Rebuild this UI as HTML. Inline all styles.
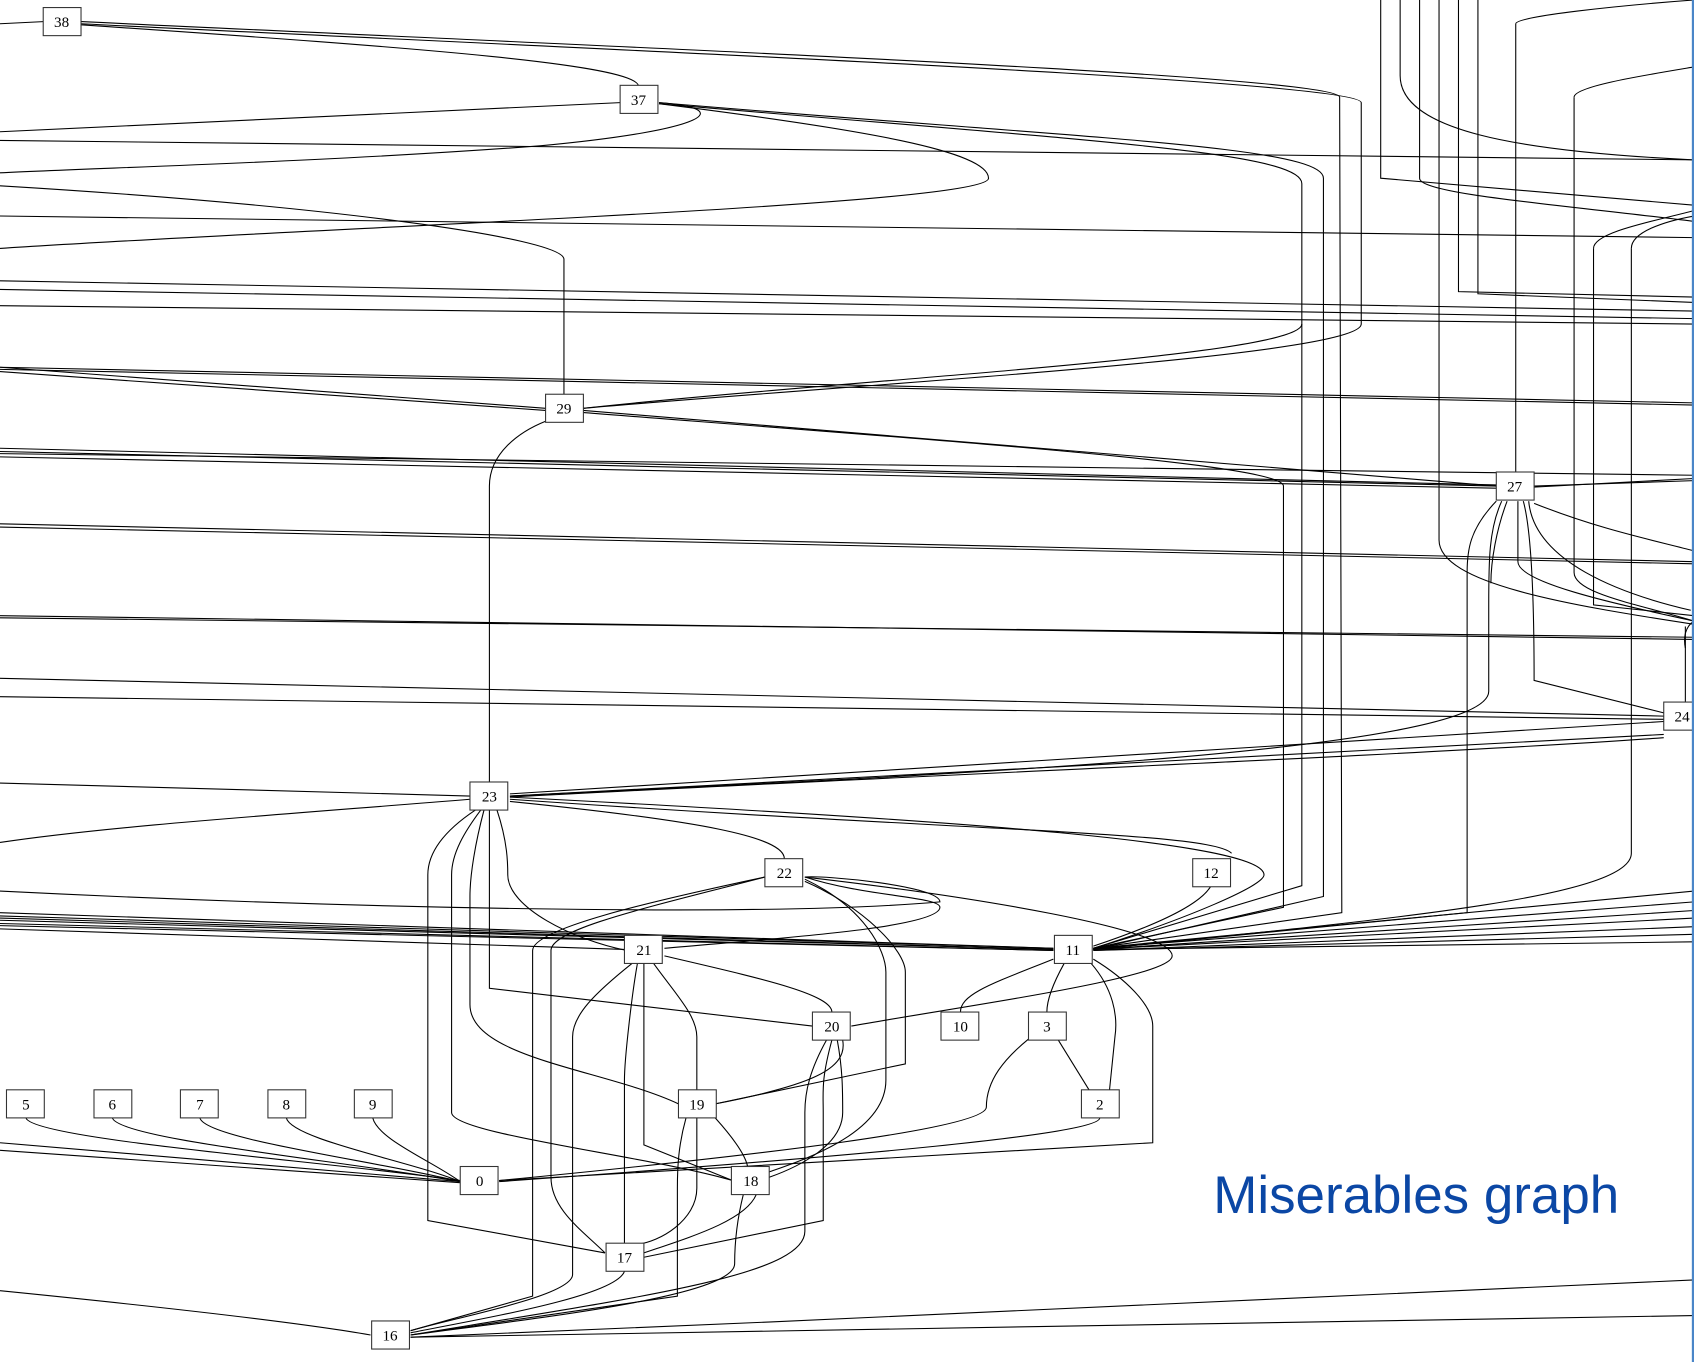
<!DOCTYPE html>
<html><head><meta charset="utf-8"><style>
html,body{margin:0;padding:0;background:#fff;overflow:hidden}
svg{display:block}
text{font-family:"Liberation Serif",serif;font-size:14px}
</style></head><body>
<svg width="1694" height="1362" viewBox="0 0 1568 1261" preserveAspectRatio="none" xmlns="http://www.w3.org/2000/svg">
<g fill="none" stroke="#000" stroke-width="1">
<!-- top area -->
<path d="M0,22 L40,20"/>
<path d="M75,20 C600,45 1240,70 1240,90 L1242,845 L1012,878"/>
<path d="M75,22 C600,48 1260,75 1260,95 L1260,300 C1260,330 800,355 540,378"/>
<path d="M75,23 C400,45 591,60 591,80"/>
<path d="M574,95 L0,122"/>
<path d="M610,95 C680,100 660,120 500,135 C300,150 100,155 0,160"/>
<path d="M610,96 C800,120 915,140 915,165 C915,190 300,210 0,230"/>
<path d="M610,96 C1000,130 1205,140 1205,170 L1205,820 L1012,878"/>
<path d="M610,95 C1000,128 1225,135 1225,165 L1225,830 L1012,879"/>
<path d="M0,130 L1568,148"/>
<path d="M0,172 C300,190 522,220 522,240 L522,366"/>
<path d="M0,200 L1568,220"/>
<path d="M0,260 L1568,288"/>
<path d="M0,268 L1568,295"/>
<path d="M0,283 L1568,300"/>
<path d="M0,340 L505,378"/>
<path d="M0,344 L505,380"/>
<path d="M0,340 L1568,373"/>
<path d="M0,342 L1568,375"/>
<path d="M540,378 C800,350 1205,330 1205,300"/>
<path d="M540,382 C900,410 1188,430 1188,450 L1188,840 L1012,878"/>
<path d="M540,380 L1385,450"/>
<path d="M505,390 C480,400 453,420 453,450 L453,724"/>
<path d="M0,415 L1385,449"/>
<path d="M0,418 L1385,450"/>
<path d="M0,423 L1385,452"/>
<path d="M0,420 L1568,440"/>
<path d="M1420,450 L1568,445"/>
<path d="M1420,451 L1568,443"/>
<path d="M1420,466 C1480,490 1530,500 1568,510"/>
<path d="M0,485 L1568,520"/>
<path d="M0,488 L1568,522"/>
<path d="M0,570 L1568,592"/>
<path d="M0,572 L1568,590"/>
<path d="M0,628 L1540,663"/>
<path d="M0,645 L1540,666"/>
<!-- right vertical stubs -->
<path d="M1278,0 L1278,165 L1568,190"/>
<path d="M1296,0 L1296,70 C1296,120 1400,140 1568,148"/>
<path d="M1314,0 L1314,165 C1314,180 1450,190 1568,205"/>
<path d="M1332,0 L1332,500 C1332,540 1450,560 1568,578"/>
<path d="M1350,0 L1350,270 L1568,275"/>
<path d="M1368,0 L1368,272 L1568,280"/>
<path d="M1403,22 C1403,15 1500,5 1568,0"/>
<path d="M1403,22 L1403,437"/>
<path d="M1457,90 C1457,80 1520,70 1568,62"/>
<path d="M1457,90 L1457,530 C1457,550 1520,560 1568,575"/>
<path d="M1475,230 C1475,215 1530,205 1568,195"/>
<path d="M1475,230 L1475,560 L1568,570"/>
<path d="M1510,230 C1510,215 1540,205 1568,200"/>
<path d="M1510,230 L1510,790 C1510,830 1300,850 1012,879"/>
<path d="M1560,580 L1560,650"/>
<path d="M1568,575 C1560,580 1558,590 1560,600"/>
<!-- 27 links -->
<path d="M1385,464 C1360,490 1358,510 1358,530 L1358,845 L1012,879"/>
<path d="M1390,464 C1378,490 1378,520 1378,560 L1378,640 C1378,700 800,720 472,737"/>
<path d="M1395,464 C1385,490 1380,520 1380,540"/>
<path d="M1405,464 L1405,520 C1405,540 1500,560 1568,575"/>
<path d="M1410,464 C1420,500 1420,600 1420,630 L1540,660"/>
<path d="M1415,464 C1420,520 1500,550 1565,565"/>
<!-- 24 and 23 -->
<path d="M1540,668 L472,735"/>
<path d="M1540,683 C1300,700 800,720 472,738"/>
<path d="M1540,680 L472,737"/>
<path d="M0,725 L435,737"/>
<path d="M435,740 C250,755 100,765 0,780"/>
<path d="M472,740 C900,770 1120,770 1140,790"/>
<path d="M472,738 C900,760 1170,780 1170,810 C1170,820 1100,850 1012,878"/>
<path d="M472,742 C650,760 726,775 726,795"/>
<path d="M440,750 C410,770 396,790 396,810 L396,1130 L560,1160"/>
<path d="M445,750 C430,770 418,790 418,810 L418,1030 C418,1050 600,1070 678,1093"/>
<path d="M448,750 C440,780 435,810 435,830 L435,930 C435,980 560,990 628,1022"/>
<path d="M453,750 L453,915 L752,950"/>
<path d="M460,750 C470,780 470,800 470,810 C470,840 530,870 580,880"/>
<!-- left lines into 11 band -->
<path d="M0,825 C300,840 700,850 870,835 C870,820 760,810 745,812"/>
<path d="M0,845 L975,878"/>
<path d="M0,848 L975,878"/>
<path d="M0,850 L975,879"/>
<path d="M0,852 L975,879"/>
<path d="M0,855 L975,880"/>
<path d="M0,857 L975,880"/>
<path d="M0,860 L578,879"/>
<path d="M1012,878 L1568,825"/>
<path d="M1012,878 L1568,835"/>
<path d="M1012,879 L1568,843"/>
<path d="M1012,879 L1568,850"/>
<path d="M1012,880 L1568,858"/>
<path d="M1012,880 L1568,865"/>
<path d="M1012,879 L1568,872"/>
<path d="M1012,876 C1060,860 1110,840 1121,820"/>
<!-- 22 -->
<path d="M708,812 C600,840 510,860 510,880 L510,1090 C510,1120 540,1140 560,1160"/>
<path d="M708,812 C600,835 493,860 493,880 L493,1200 L380,1232"/>
<path d="M745,812 C800,830 870,830 870,840 C870,860 700,870 615,878"/>
<path d="M745,812 C900,830 1085,860 1085,885 C1085,905 900,930 788,950"/>
<path d="M745,814 C800,840 820,880 820,900 L820,1000 C820,1050 740,1075 712,1085"/>
<path d="M745,816 C800,840 838,880 838,900 L838,985 L662,1022"/>
<!-- 21 -->
<path d="M615,885 C700,905 770,920 770,937"/>
<path d="M585,892 C550,920 530,940 530,960 L530,1180 C530,1200 420,1220 380,1232"/>
<path d="M590,892 C585,920 578,980 578,1000 L578,1151"/>
<path d="M596,892 L596,1060 L678,1093"/>
<path d="M605,892 C625,920 645,940 645,960 L645,1009"/>
<!-- 11 -->
<path d="M975,888 C920,910 889,920 889,937"/>
<path d="M985,892 C975,910 969,925 969,937"/>
<path d="M1010,892 C1030,915 1035,940 1032,960 L1027,1009"/>
<path d="M1012,888 C1040,905 1067,930 1067,950 L1067,1058 L462,1093"/>
<!-- 3 and 2 -->
<path d="M952,962 C930,980 913,1000 913,1025 C913,1045 700,1070 462,1093"/>
<path d="M979,962 L1008,1009"/>
<path d="M1018,1035 C1018,1050 800,1070 462,1094"/>
<!-- 20 -->
<path d="M765,963 C750,990 745,1010 745,1030 L745,1140 C745,1180 600,1200 380,1236"/>
<path d="M770,963 C760,1000 762,1010 762,1030 L762,1130 L596,1164"/>
<path d="M775,963 C780,990 780,1010 780,1030 C780,1060 740,1080 712,1090"/>
<path d="M780,963 C785,990 750,1005 662,1022"/>
<!-- 19 -->
<path d="M635,1035 C628,1060 627,1080 627,1100 L627,1200 L380,1236"/>
<path d="M645,1035 L645,1100 C645,1130 610,1150 590,1152"/>
<path d="M662,1035 C680,1055 690,1070 692,1080"/>
<!-- 18 -->
<path d="M688,1106 C682,1130 680,1150 680,1170 C680,1200 500,1220 380,1236"/>
<path d="M700,1106 C690,1130 640,1145 596,1160"/>
<!-- 17 -->
<path d="M578,1177 C570,1200 450,1220 380,1234"/>
<!-- 16 -->
<path d="M0,1195 C150,1210 280,1225 343,1236"/>
<path d="M380,1238 C800,1220 1300,1200 1568,1185"/>
<path d="M380,1238 L1568,1218"/>
<!-- 0 -->
<path d="M24,1035 C30,1055 300,1075 426,1093"/>
<path d="M0,1058 L426,1094"/>
<path d="M0,1065 L426,1095"/>
<path d="M104,1035 C110,1055 320,1075 426,1094"/>
<path d="M185,1035 C190,1055 350,1075 426,1094"/>
<path d="M265,1035 C270,1055 380,1075 426,1094"/>
<path d="M345,1035 C350,1055 400,1075 426,1094"/>
</g>
<g fill="#fff" stroke="#333" stroke-width="1">
<rect x="40" y="7" width="35" height="26"/>
<rect x="574" y="79" width="35" height="26"/>
<rect x="505" y="365" width="35" height="26"/>
<rect x="1385" y="437" width="35" height="26"/>
<rect x="1540" y="650" width="35" height="26"/>
<rect x="435" y="724" width="35" height="26"/>
<rect x="708" y="795" width="35" height="26"/>
<rect x="1104" y="795" width="35" height="26"/>
<rect x="578" y="866" width="35" height="26"/>
<rect x="976" y="866" width="35" height="26"/>
<rect x="752" y="937" width="35" height="26"/>
<rect x="871" y="937" width="35" height="26"/>
<rect x="952" y="937" width="35" height="26"/>
<rect x="6" y="1009" width="35" height="26"/>
<rect x="87" y="1009" width="35" height="26"/>
<rect x="167" y="1009" width="35" height="26"/>
<rect x="248" y="1009" width="35" height="26"/>
<rect x="328" y="1009" width="35" height="26"/>
<rect x="628" y="1009" width="35" height="26"/>
<rect x="1001" y="1009" width="35" height="26"/>
<rect x="426" y="1080" width="35" height="26"/>
<rect x="677" y="1080" width="35" height="26"/>
<rect x="561" y="1151" width="35" height="26"/>
<rect x="344" y="1223" width="35" height="26"/>
</g>
<g text-anchor="middle">
<text x="57" y="25">38</text><text x="591" y="97">37</text><text x="522" y="383">29</text>
<text x="1402" y="455">27</text><text x="1557" y="668">24</text><text x="453" y="742">23</text>
<text x="726" y="813">22</text><text x="1121" y="813">12</text><text x="596" y="884">21</text>
<text x="993" y="884">11</text><text x="770" y="955">20</text><text x="889" y="955">10</text>
<text x="969" y="955">3</text><text x="24" y="1027">5</text><text x="104" y="1027">6</text>
<text x="185" y="1027">7</text><text x="265" y="1027">8</text><text x="345" y="1027">9</text>
<text x="645" y="1027">19</text><text x="1018" y="1027">2</text><text x="444" y="1098">0</text>
<text x="695" y="1098">18</text><text x="578" y="1169">17</text><text x="361" y="1241">16</text>
</g>
<rect x="1566" y="0" width="2" height="1261" fill="#4a86c8"/>
<text x="1123" y="1123" style="font-family:'Liberation Sans',sans-serif;font-size:49px" fill="#0b47a5">Miserables graph</text>
</svg>
</body></html>
